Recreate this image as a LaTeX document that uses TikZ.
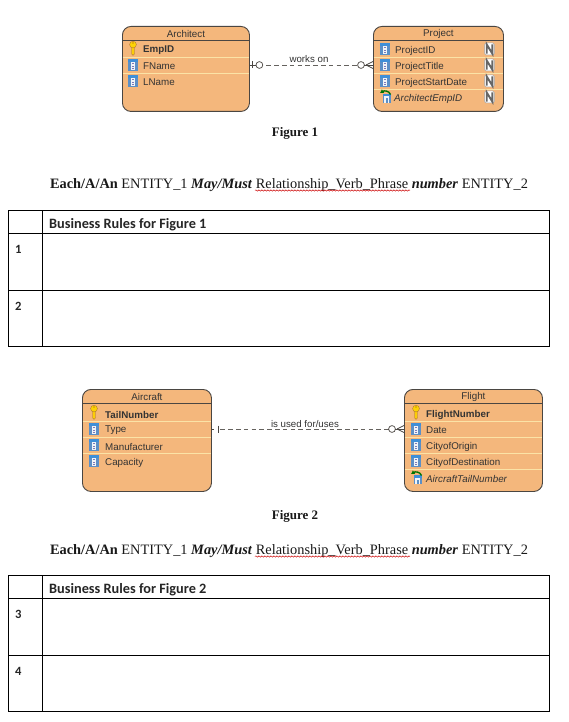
\documentclass[tikz,border=0pt]{standalone}
\usepackage{fontspec}
\setmainfont{Liberation Serif}
\newfontfamily\entfont{Liberation Sans}
\newfontfamily\rulefont{Carlito}
\usetikzlibrary{calc,decorations.pathmorphing,arrows.meta}
\definecolor{entfill}{HTML}{F4B77C}
\definecolor{entline}{HTML}{4A4642}
\definecolor{sepline}{HTML}{FBE3A6}
\definecolor{txt}{HTML}{333333}
\definecolor{iconblue}{HTML}{3F8FD8}
\definecolor{iconedge}{HTML}{5C8FC6}
\definecolor{iconbody}{HTML}{F0F4F8}
\tikzset{
 entbox/.style={draw=entline,line width=0.9pt,fill=entfill,rounded corners=8.5pt,inner sep=0pt,anchor=north west},
 rowband/.style={inner sep=0pt,anchor=west,minimum height=16pt},
 enttitle/.style={font=\entfont\fontsize{9.8}{11}\selectfont,text=txt,inner sep=0pt},
 attr/.style={font=\entfont\fontsize{9.8}{11}\selectfont,text=txt,inner sep=0pt,anchor=west},
 attrb/.style={attr,font=\entfont\bfseries\fontsize{9.8}{11}\selectfont},
 attri/.style={attr,font=\entfont\itshape\fontsize{9.8}{11}\selectfont},
 relabel/.style={font=\entfont\fontsize{9.7}{11}\selectfont,text=txt,inner sep=0pt},
 relline/.style={draw=entline!85,line width=0.65pt,dash pattern=on 4.6pt off 3.2pt},
 endmark/.style={draw=entline,line width=0.7pt},
 caption/.style={font=\fontsize{13}{15}\selectfont\bfseries,inner sep=0pt,text=black!90},
 formula/.style={font=\fontsize{14.36}{16}\selectfont,inner sep=0pt,text=black!90},
 cellbox/.style={draw=black,line width=0.8pt,inner sep=0pt,anchor=north west},
 ruletext/.style={font=\rulefont\bfseries\fontsize{14.3}{16}\selectfont,inner sep=0pt,anchor=west,text=black!85},
 numtext/.style={font=\rulefont\bfseries\fontsize{12.6}{14}\selectfont,inner sep=0pt,anchor=west,text=black!85},
 squiggle/.style={draw=red!80!black,line width=0.45pt,decorate,decoration={snake,amplitude=0.7pt,segment length=3pt}},
 colicon/.pic={
  \fill[iconbody] (-5,-6) rectangle (5,6);
  \fill[iconedge] (-5,-6) rectangle (-2.4,6);
  \fill[iconedge] (2.4,-6) rectangle (5,6);
  \fill[iconblue] (-5,-6) rectangle (5,-3);
  \fill[iconedge] (-5,5) rectangle (5,6);
  \foreach \yy in {-1.2,1.2,3.6}{\fill[gray!70!blue!80] (-1.4,\yy-0.5) rectangle (1.4,\yy+0.5);}
 },
 keyicon/.pic={
  \fill[yellow!65!orange,draw=orange!55!black!80,line width=0.3pt] (-1.3,-1) -- (-1.3,6) -- (0,7.5) -- (1.4,6) -- (1.4,-1) -- cycle;
  \fill[yellow!70!orange,draw=orange!55!black!80,line width=0.3pt] (0,-3.4) circle (3.4);
  \fill[orange!60!black] (0,-5) circle (0.7);
 },
 nicon/.pic={
  \draw[gray!70,line width=0.5pt,fill=white,rounded corners=1.5pt] (-4.8,-6) rectangle (4.8,6);
  \draw[black!60,line width=1.9pt] (-2.8,4.6) -- (-2.8,-4.6) -- (2.8,4.6) -- (2.8,-4.6);
 },
 fkicon/.pic={
  \fill[iconbody] (-3.5,-2) rectangle (5,7);
  \fill[iconedge] (-3.5,-2) rectangle (-1.6,7);
  \fill[iconedge] (3,-2) rectangle (5,7);
  \fill[iconblue] (-3.5,-2) rectangle (5,0.5);
  \fill[iconedge] (-0.2,2.5) rectangle (1.6,7);
  \draw[green!45!black,line width=1.4pt,-{Latex[length=3.5pt,width=4.5pt]}] (4.5,-1.5) .. controls (3,-5.5) and (-2,-5.5) .. (-6,-3);
 }
}
\newcommand{\entity}[7]{% name, x, y, w, h, header y offset, title
 \node[entbox,minimum width=#4pt,minimum height=#5pt] (#1) at (#2,#3) {};
 \draw[entline,line width=0.8pt] ($(#1.north west)+(0,#6)$) -- ($(#1.north east)+(0,#6)$);
 \node[enttitle] (#1title) at ($(#1.north)+(0,8)$) {#7};
}
\newcommand{\septo}[2]{% entity, y offset from top
 \draw[sepline,line width=0.9pt] ($(#1.north west)+(0.5,#2)$) -- ($(#1.north east)+(-0.5,#2)$);
}
\begin{document}
\begin{tikzpicture}[x=1pt,y=-1pt]
\useasboundingbox (0,0) rectangle (568,722);
\fill[white] (0,0) rectangle (568,722);

% ---------- Figure 1 ----------
\entity{arch}{122}{26}{127}{85}{14}{Architect}
\septo{arch}{31}\septo{arch}{47.5}
\entity{proj}{373}{26}{130}{85}{14}{Project}
\septo{proj}{31}\septo{proj}{47.5}\septo{proj}{63.5}

\node[rowband,minimum width=127pt] (archFName) at (122,65) {};
\node[rowband,minimum width=130pt] (projTitle) at (373,65) {};

\pic at (133,48) {keyicon};
\pic at (133,65) {colicon};
\pic at (133,81) {colicon};
\node[attrb] (a1) at (143,50.5) {EmpID};
\node[attr] (a2) at (143,66.5) {FName};
\node[attr] (a3) at (143,82.5) {LName};

\pic at (385,49) {colicon};
\pic at (385,65) {colicon};
\pic at (385,81) {colicon};
\pic at (386,96) {fkicon};
\node[attr] (p1) at (395,50.5) {ProjectID};
\node[attr] (p2) at (395,66.5) {ProjectTitle};
\node[attr] (p3) at (395,82.5) {ProjectStartDate};
\node[attri] (p4) at (394,98.5) {ArchitectEmpID};
\foreach \yy in {49,65,81,97}{\pic at (489.5,\yy) {nicon};}

\draw[relline] ($(archFName.east)+(17,0)$) -- ($(projTitle.west)+(-15.5,0)$);
\draw[endmark] ($(archFName.east)+(3,-3.5)$) -- ($(archFName.east)+(3,3.5)$);
\draw[endmark] ($(archFName.east)+(10,0)$) circle (3.4);
\draw[endmark] (archFName.east) -- ($(archFName.east)+(6.6,0)$);
\draw[endmark] ($(projTitle.west)+(-12,0)$) circle (3.4);
\draw[endmark] ($(projTitle.west)+(-8.6,0)$) -- (projTitle.west);
\draw[endmark] ($(projTitle.west)+(-7,0)$) -- ($(projTitle.west)+(0,-3.5)$);
\draw[endmark] ($(projTitle.west)+(-7,0)$) -- ($(projTitle.west)+(0,3.5)$);
\node[relabel] (wl) at (309,59.5) {works on};

\node[caption] (cap1) at (295,133) {Figure 1};
\node[formula] (f1) at (289,185) {\textbf{Each/A/An} ENTITY\_1 \textbf{\textit{May/Must}} Relationship\_Verb\_Phrase \textbf{\textit{number}} ENTITY\_2};
\draw[squiggle] (255,190.5) -- (410,190.5);

% ---------- Table 1 ----------
\node[cellbox,minimum width=34pt,minimum height=23pt] (t1a) at (8,210) {};
\node[cellbox,minimum width=507pt,minimum height=23pt] (t1b) at (42,210) {};
\node[cellbox,minimum width=34pt,minimum height=57pt] (t1c) at (8,233) {};
\node[cellbox,minimum width=507pt,minimum height=57pt] (t1d) at (42,233) {};
\node[cellbox,minimum width=34pt,minimum height=56pt] (t1e) at (8,290) {};
\node[cellbox,minimum width=507pt,minimum height=56pt] (t1f) at (42,290) {};
\node[ruletext] (t1h) at (49,224.5) {Business Rules for Figure 1};
\node[numtext] (t1n1) at (15,249) {1};
\node[numtext] (t1n2) at (15,306) {2};

% ---------- Figure 2 ----------
\entity{air}{82}{389}{129}{102}{14}{Aircraft}
\septo{air}{32}\septo{air}{48}\septo{air}{64}
\entity{fli}{404}{389}{138}{102}{14}{Flight}
\septo{fli}{32}\septo{fli}{48}\septo{fli}{64}\septo{fli}{80}

\node[rowband,minimum width=129pt] (airType) at (82,429) {};
\node[rowband,minimum width=138pt] (fliDate) at (404,429) {};

\pic at (94,412) {keyicon};
\pic at (94,429) {colicon};
\pic at (94,445) {colicon};
\pic at (94,461) {colicon};
\node[attrb] (c1) at (105,414.5) {TailNumber};
\node[attr] (c2) at (105,430.5) {Type};
\node[attr] (c3) at (105,446.5) {Manufacturer};
\node[attr] (c4) at (105,463) {Capacity};

\pic at (416,412) {keyicon};
\pic at (416,429) {colicon};
\pic at (416,445) {colicon};
\pic at (416,461) {colicon};
\pic at (417,477) {fkicon};
\node[attrb] (d1) at (426,414.5) {FlightNumber};
\node[attr] (d2) at (426,430.5) {Date};
\node[attr] (d3) at (426,446.5) {CityofOrigin};
\node[attr] (d4) at (426,463) {CityofDestination};
\node[attri] (d5) at (426,479) {AircraftTailNumber};

\draw[relline] ($(airType.east)+(9,0)$) -- ($(fliDate.west)+(-15.5,0)$);
\draw[endmark] (airType.east) -- ($(airType.east)+(3,0)$);
\draw[endmark] ($(airType.east)+(7,-3.5)$) -- ($(airType.east)+(7,3.5)$);
\draw[endmark] ($(fliDate.west)+(-12,0)$) circle (3.4);
\draw[endmark] ($(fliDate.west)+(-8.6,0)$) -- (fliDate.west);
\draw[endmark] ($(fliDate.west)+(-7,0)$) -- ($(fliDate.west)+(0,-3.5)$);
\draw[endmark] ($(fliDate.west)+(-7,0)$) -- ($(fliDate.west)+(0,3.5)$);
\node[relabel] (ul) at (305,424) {is used for/uses};

\node[caption] (cap2) at (295,516) {Figure 2};
\node[formula] (f2) at (289,551) {\textbf{Each/A/An} ENTITY\_1 \textbf{\textit{May/Must}} Relationship\_Verb\_Phrase \textbf{\textit{number}} ENTITY\_2};
\draw[squiggle] (255,556.5) -- (410,556.5);

% ---------- Table 2 ----------
\node[cellbox,minimum width=34pt,minimum height=23pt] (t2a) at (8,575) {};
\node[cellbox,minimum width=507pt,minimum height=23pt] (t2b) at (42,575) {};
\node[cellbox,minimum width=34pt,minimum height=57pt] (t2c) at (8,598) {};
\node[cellbox,minimum width=507pt,minimum height=57pt] (t2d) at (42,598) {};
\node[cellbox,minimum width=34pt,minimum height=56pt] (t2e) at (8,655) {};
\node[cellbox,minimum width=507pt,minimum height=56pt] (t2f) at (42,655) {};
\node[ruletext] (t2h) at (49,589.5) {Business Rules for Figure 2};
\node[numtext] (t2n1) at (15,614) {3};
\node[numtext] (t2n2) at (15,671) {4};
\end{tikzpicture}
\end{document}
